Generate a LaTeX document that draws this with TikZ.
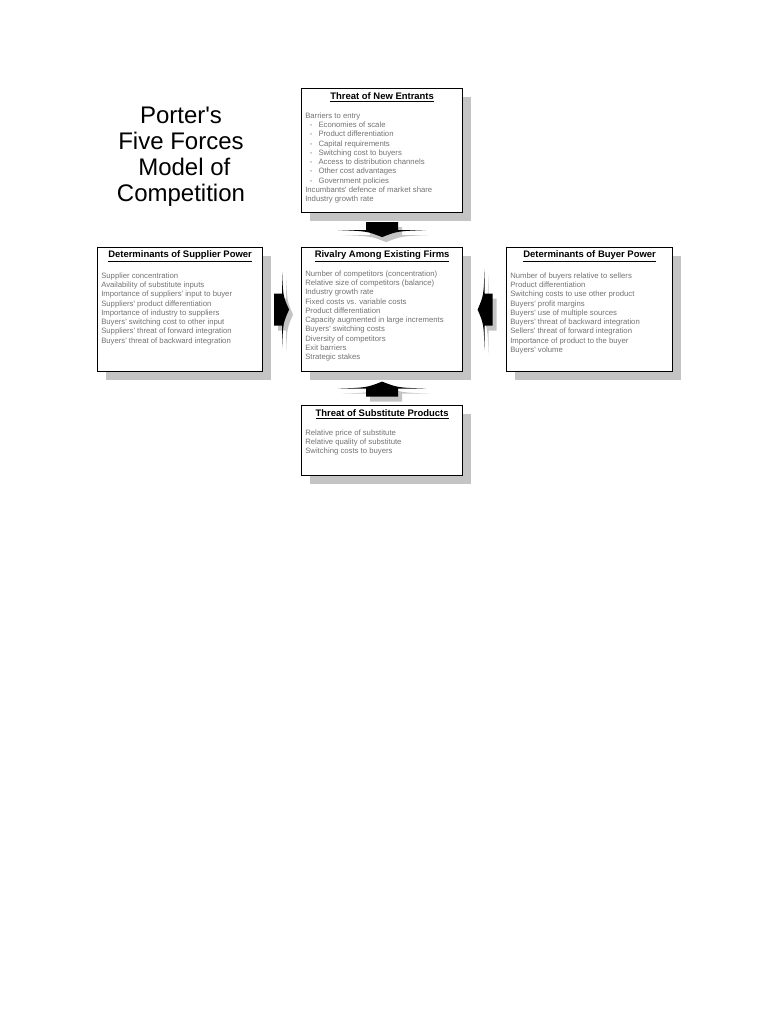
\documentclass[tikz,border=0pt]{standalone}
\usepackage{fontspec}
\setmainfont{Liberation Sans}[Ligatures=TeXOff]
\usetikzlibrary{calc,shadows}

\definecolor{itemgray}{gray}{0.45}
\definecolor{shadowgray}{gray}{0.77}

\newcommand{\dashitem}[1]{\hspace*{3.5pt}-\hspace*{4.5pt}#1}

\begin{document}
\begin{tikzpicture}[x=0.75pt,y=-0.75pt]
  \tikzstyle{forcebox}=[draw, line width=0.9pt, fill=white, anchor=north west, inner sep=0pt,
    minimum height=93pt, drop shadow={shadow xshift=6pt, shadow yshift=-6pt, fill=shadowgray, opacity=1}]
  \tikzstyle{boxhead}=[font=\fontsize{7.1}{8.5}\selectfont\bfseries, inner sep=0pt]
  \tikzstyle{boxitems}=[font=\fontsize{5.8}{6.95}\selectfont, text=itemgray, align=left, anchor=north west, inner sep=0pt]
  \tikzset{
    pics/blockarrow/.style={code={
      \fill (-16,-8) -- (16,-8) -- (16,0) -- (#1,0) .. controls ({0.35*#1},1) .. (0,7)
        .. controls ({-0.35*#1},1) .. (-#1,0) -- (-16,0) -- cycle;
    }}
  }

  \useasboundingbox (0,0) rectangle (768,1024);

  % title
  \node (title) [align=center, font=\fontsize{18}{19.5}\selectfont] at (181,157)
    {Porter's\\Five Forces\\\hspace*{5pt}Model of\\Competition};

  % the five boxes
  \node (entrants) [forcebox, minimum width=120.75pt] at (301,88) {};
  \node (supplier) [forcebox, minimum width=123.75pt] at (97,247) {};
  \node (rivalry) [forcebox, minimum width=120.75pt] at (301,247) {};
  \node (buyer) [forcebox, minimum width=124.5pt] at (506,247) {};
  \node (substitutes) [forcebox, minimum width=120.75pt, minimum height=52.5pt] at (301,405) {};

  \node (entrantsHead) [boxhead] at ($(entrants.north)+(0,9)$) {\underline{Threat of New Entrants}};
  \node (supplierHead) [boxhead] at ($(supplier.north)+(0,9)$) {\underline{Determinants of Supplier Power}};
  \node (rivalryHead) [boxhead] at ($(rivalry.north)+(0,9)$) {\underline{Rivalry Among Existing Firms}};
  \node (buyerHead) [boxhead] at ($(buyer.north)+(0,9)$) {\underline{Determinants of Buyer Power}};
  \node (substitutesHead) [boxhead] at ($(substitutes.north)+(0,9.5)$) {\underline{Threat of Substitute Products}};

  \node (entrantsItems) [boxitems] at ($(entrants.north west)+(4,24.5)$) {Barriers to entry\\
    \dashitem{Economies of scale}\\
    \dashitem{Product differentiation}\\
    \dashitem{Capital requirements}\\
    \dashitem{Switching cost to buyers}\\
    \dashitem{Access to distribution channels}\\
    \dashitem{Other cost advantages}\\
    \dashitem{Government policies}\\
    Incumbants' defence of market share\\
    Industry growth rate};

  \node (supplierItems) [boxitems] at ($(supplier.north west)+(4,25.5)$) {Supplier concentration\\
    Availability of substitute inputs\\
    Importance of suppliers' input to buyer\\
    Suppliers' product differentiation\\
    Importance of industry to suppliers\\
    Buyers' switching cost to other input\\
    Suppliers' threat of forward integration\\
    Buyers' threat of backward integration};

  \node (rivalryItems) [boxitems] at ($(rivalry.north west)+(4,23.5)$) {Number of competitors (concentration)\\
    Relative size of competitors (balance)\\
    Industry growth rate\\
    Fixed costs vs. variable costs\\
    Product differentiation\\
    Capacity augmented in large increments\\
    Buyers' switching costs\\
    Diversity of competitors\\
    Exit barriers\\
    Strategic stakes};

  \node (buyerItems) [boxitems] at ($(buyer.north west)+(4,25.5)$) {Number of buyers relative to sellers\\
    Product differentiation\\
    Switching costs to use other product\\
    Buyers' profit margins\\
    Buyers' use of multiple sources\\
    Buyers' threat of backward integration\\
    Sellers' threat of forward integration\\
    Importance of product to the buyer\\
    Buyers' volume};

  \node (substitutesItems) [boxitems] at ($(substitutes.north west)+(4,24.5)$) {Relative price of substitute\\
    Relative quality of substitute\\
    Switching costs to buyers};

  % block arrows between the boxes
  \coordinate (arrowTop) at ($(entrants.south)!0.5!(rivalry.north)$);
  \coordinate (arrowBottom) at ($(rivalry.south)!0.5!(substitutes.north)$);
  \coordinate (arrowLeft) at ($(supplier.east)!0.5!(rivalry.west)$);
  \coordinate (arrowRight) at ($(rivalry.east)!0.5!(buyer.west)$);

  \foreach \pos/\ang/\w in {arrowTop/0/44, arrowBottom/180/44, arrowLeft/90/38, arrowRight/-90/40} {
    \pic [shadowgray, rotate=\ang] at ($(\pos)+(4,5)$) {blockarrow=\w};
    \pic [black, rotate=\ang] at (\pos) {blockarrow=\w};
  }

\end{tikzpicture}
\end{document}
